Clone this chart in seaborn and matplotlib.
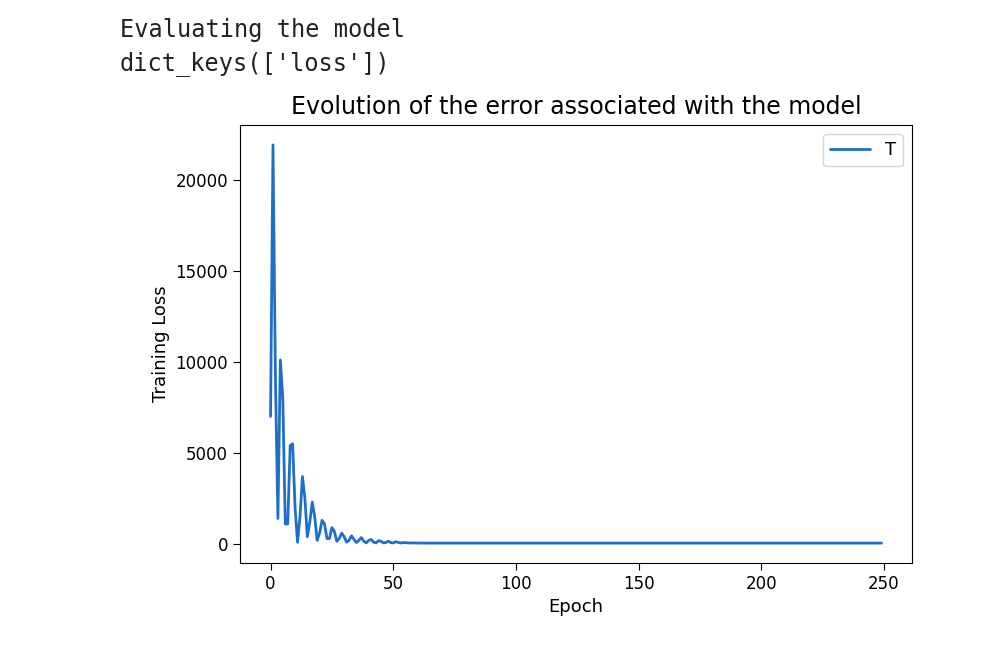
import matplotlib
matplotlib.use("Agg")
import matplotlib.pyplot as plt
import seaborn as sns
import pandas as pd

head_loss = [7000, 21900, 9000, 1400, 10100, 8000, 1100, 1100, 5400, 5500,
             2000, 100, 1500, 3700, 2500, 400, 1200, 2300, 1500, 200,
             600, 1300, 1100, 300, 300, 900, 700, 150, 300, 600,
             400, 100, 200, 450, 250, 80, 200, 350, 150, 60,
             200, 250, 100, 60, 180, 150, 60, 80, 150, 80,
             60, 120, 90, 60, 70, 80, 60, 55, 60, 55]
tail_loss = [50] * 190
loss = head_loss + tail_loss
epochs = list(range(len(loss)))
df = pd.DataFrame({"Epoch": epochs, "loss": loss})

sns.set_style("white")
plt.rcParams["text.color"] = "black"
plt.rcParams["axes.labelcolor"] = "black"
plt.rcParams["xtick.color"] = "black"
plt.rcParams["ytick.color"] = "black"
fig = plt.figure(figsize=(10.08, 6.58), dpi=100)
ax = fig.add_axes([240/1008, 1-563/658, (912-240)/1008, (563-125)/658])
sns.lineplot(data=df, x="Epoch", y="loss", ax=ax, color="#1f6fc9", linewidth=2, label="T")
ax.set_title("Evolution of the error associated with the model", fontsize=17, pad=8)
ax.set_xlabel("Epoch", fontsize=13)
ax.set_ylabel("Training Loss", fontsize=13)
ax.tick_params(labelsize=12, length=5, left=True, bottom=True)
ax.set_xticks([0, 50, 100, 150, 200, 250])
ax.set_yticks([0, 5000, 10000, 15000, 20000])
for s in ax.spines.values():
    s.set_color("black"); s.set_linewidth(0.8)
ax.legend(loc="upper right", fontsize=13, handlelength=2.2)
fig.text(120/1008, 1-30/658, "Evaluating the model", family="DejaVu Sans Mono", fontsize=17, va="center", color="#222222")
fig.text(120/1008, 1-64/658, "dict_keys(['loss'])", family="DejaVu Sans Mono", fontsize=17, va="center", color="#222222")
fig.savefig("out.png", dpi=100)
